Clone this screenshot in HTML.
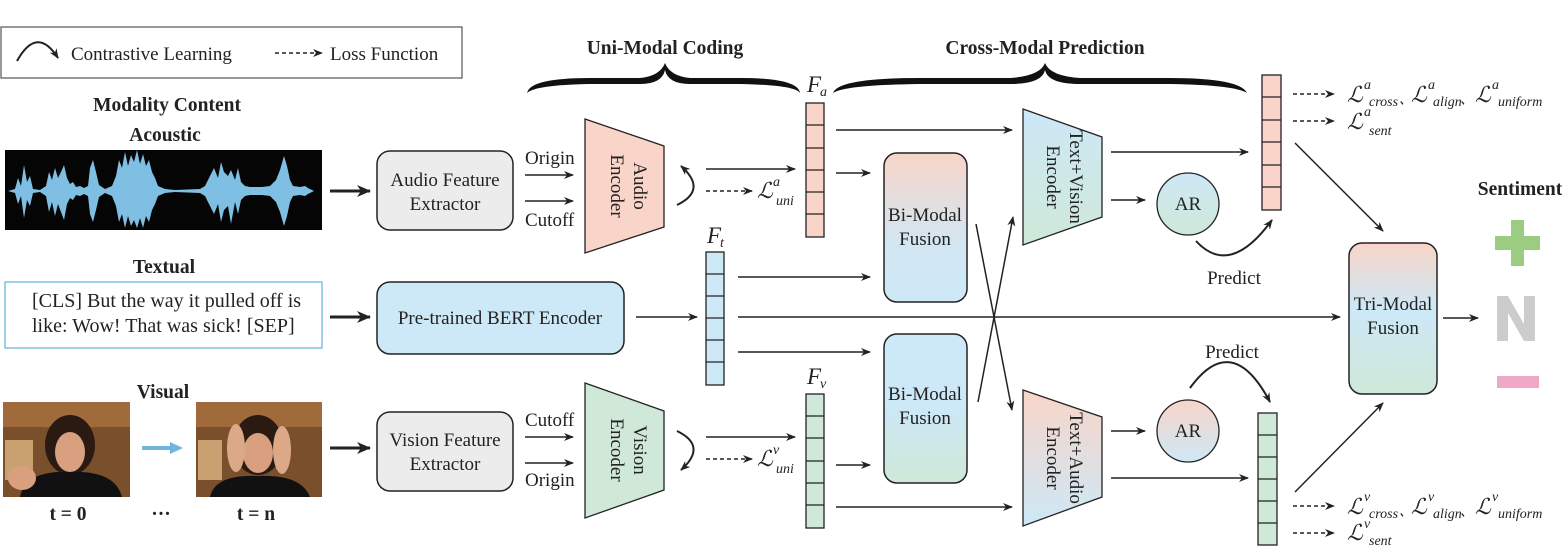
<!DOCTYPE html>
<html><head><meta charset="utf-8"><style>
html,body{margin:0;padding:0;background:#fff;}
svg{display:block;}
text{font-family:"Liberation Serif",serif;fill:#222;}
.b{font-weight:bold;font-size:19.5px;}
.t{font-size:19px;}
.i{font-style:italic;}
</style></head><body>
<svg width="1562" height="546" viewBox="0 0 1562 546" xmlns="http://www.w3.org/2000/svg">
<defs>
<marker id="ah" markerWidth="10" markerHeight="8" refX="9" refY="4" orient="auto" markerUnits="userSpaceOnUse"><path d="M0,0 L10,4 L0,8 L3,4z" fill="#222"/></marker>
<marker id="ahb" markerWidth="14" markerHeight="12" refX="13" refY="6" orient="auto" markerUnits="userSpaceOnUse"><path d="M0,0 L14,6 L0,12 L4,6z" fill="#222"/></marker>
<linearGradient id="pb" x1="0" y1="0" x2="0" y2="1"><stop offset="0" stop-color="#f8d5c8"/><stop offset="0.6" stop-color="#d3e6f2"/><stop offset="1" stop-color="#cde8f7"/></linearGradient>
<linearGradient id="bg" x1="0" y1="0" x2="0" y2="1"><stop offset="0" stop-color="#cde8f7"/><stop offset="0.5" stop-color="#cde8f7"/><stop offset="1" stop-color="#cfe8d8"/></linearGradient>
<linearGradient id="pbg" x1="0" y1="0" x2="0" y2="1"><stop offset="0" stop-color="#f8d5c8"/><stop offset="0.45" stop-color="#cde8f7"/><stop offset="1" stop-color="#cfe8d8"/></linearGradient>
<linearGradient id="bgr" x1="0" y1="0" x2="0" y2="1"><stop offset="0" stop-color="#cde8f7"/><stop offset="1" stop-color="#cfe8d8"/></linearGradient>
<linearGradient id="pbr" x1="0" y1="0" x2="0" y2="1"><stop offset="0" stop-color="#f8d5c8"/><stop offset="1" stop-color="#cde8f7"/></linearGradient>
</defs>

<!-- legend -->
<rect x="1" y="27" width="461" height="51" fill="#fff" stroke="#555" stroke-width="1.2"/>
<path d="M17,61 Q37,25 58,58" fill="none" stroke="#222" stroke-width="2" marker-end="url(#ah)"/>
<text x="71" y="60" class="t">Contrastive Learning</text>
<line x1="275" y1="53" x2="322" y2="53" stroke="#222" stroke-width="1.5" stroke-dasharray="4,3" marker-end="url(#ah)"/>
<text x="330" y="60" class="t">Loss Function</text>

<text x="167" y="111" class="b" text-anchor="middle">Modality Content</text>
<text x="165" y="141" class="b" text-anchor="middle">Acoustic</text>
<text x="164" y="273" class="b" text-anchor="middle">Textual</text>
<text x="163" y="398" class="b" text-anchor="middle">Visual</text>

<!-- waveform -->
<rect x="5" y="150" width="317" height="80" fill="#050505"/>
<g fill="#7fbfe3">
<polygon id="wv" points="8,191 15,189 18,178 21,186 24,165 27,182 30,176 33,189 40,190 46,186 49,172 52,180 55,168 58,178 61,172 64,165 67,178 70,184 73,182 76,187 80,186 84,188 88,186 90,168 93,160 96,172 99,185 105,189 112,186 116,176 119,160 122,168 125,152 128,166 131,155 134,162 137,150 140,164 143,154 146,166 149,160 152,172 155,178 158,186 165,189 175,190 200,189 205,186 210,176 214,168 218,178 221,162 224,172 228,176 231,170 235,180 238,168 241,182 245,186 250,187 262,187 270,186 276,180 280,170 284,156 287,166 290,180 293,186 300,187 305,186 308,188 314,191"/>
<polygon points="8,191 15,193 18,204 21,196 24,218 27,200 30,206 33,193 40,192 46,196 49,212 52,202 55,216 58,204 61,212 64,220 67,204 70,198 73,200 76,195 80,196 84,194 88,196 90,214 93,222 96,210 99,197 105,193 112,196 116,206 119,222 122,214 125,228 128,216 131,226 134,220 137,228 140,218 143,228 146,216 149,222 152,210 155,204 158,196 165,193 175,192 200,193 205,196 210,206 214,214 218,204 221,222 224,210 228,206 231,224 235,202 238,214 241,200 245,196 250,195 262,195 270,196 276,202 280,212 284,226 287,216 290,202 293,196 300,195 305,196 308,194 314,191"/>
</g>
<line x1="330" y1="191" x2="370" y2="191" stroke="#222" stroke-width="3" marker-end="url(#ahb)"/>

<!-- text box -->
<rect x="5" y="282" width="317" height="66" fill="#fff" stroke="#7fc0e0" stroke-width="1.5"/>
<text x="32" y="307" font-size="20">[CLS] But the way it pulled off is</text>
<text x="32" y="332" font-size="20">like: Wow! That was sick! [SEP]</text>
<line x1="330" y1="317" x2="370" y2="317" stroke="#222" stroke-width="3" marker-end="url(#ahb)"/>

<!-- images -->
<g>
<rect x="3" y="402" width="127" height="95" fill="#7a4f2c"/>
<rect x="3" y="402" width="127" height="25" fill="#a06a3a"/>
<rect x="5" y="440" width="28" height="40" fill="#c9a070"/>
<ellipse cx="70" cy="445" rx="25" ry="30" fill="#2a1a12"/>
<ellipse cx="70" cy="452" rx="15" ry="20" fill="#d9a080"/>
<path d="M20,497 Q25,470 70,472 Q115,470 122,497z" fill="#111"/>
<ellipse cx="22" cy="478" rx="14" ry="12" fill="#d9a080"/>
</g>
<line x1="142" y1="448" x2="172" y2="448" stroke="#6fb4dc" stroke-width="4"/>
<path d="M170,442 L183,448 L170,454z" fill="#6fb4dc"/>
<g>
<rect x="196" y="402" width="126" height="95" fill="#7a4f2c"/>
<rect x="196" y="402" width="126" height="25" fill="#a06a3a"/>
<rect x="198" y="440" width="24" height="40" fill="#c9a070"/>
<ellipse cx="258" cy="445" rx="25" ry="30" fill="#2a1a12"/>
<ellipse cx="258" cy="453" rx="15" ry="20" fill="#d9a080"/>
<ellipse cx="236" cy="448" rx="9" ry="24" fill="#dba888"/>
<ellipse cx="282" cy="450" rx="9" ry="24" fill="#dba888"/>
<path d="M210,497 Q215,474 258,476 Q301,474 310,497z" fill="#111"/>
</g>
<text x="68" y="520" class="b" text-anchor="middle">t = 0</text>
<text x="161" y="520" class="b" text-anchor="middle">···</text>
<text x="256" y="520" class="b" text-anchor="middle">t = n</text>
<line x1="330" y1="448" x2="370" y2="448" stroke="#222" stroke-width="3" marker-end="url(#ahb)"/>

<!-- extractors -->
<rect x="377" y="151" width="136" height="79" rx="13" fill="#ececec" stroke="#222" stroke-width="1.5"/>
<text x="445" y="186" class="t" text-anchor="middle">Audio Feature</text>
<text x="445" y="210" class="t" text-anchor="middle">Extractor</text>
<rect x="377" y="282" width="247" height="72" rx="13" fill="#cde8f7" stroke="#222" stroke-width="1.5"/>
<text x="500" y="324" class="t" text-anchor="middle">Pre-trained BERT Encoder</text>
<rect x="377" y="412" width="136" height="79" rx="13" fill="#ececec" stroke="#222" stroke-width="1.5"/>
<text x="445" y="446" class="t" text-anchor="middle">Vision Feature</text>
<text x="445" y="470" class="t" text-anchor="middle">Extractor</text>

<!-- audio encoder -->
<text x="525" y="164" class="t">Origin</text>
<line x1="525" y1="175" x2="573" y2="175" stroke="#222" stroke-width="1.5" marker-end="url(#ah)"/>
<line x1="525" y1="201" x2="573" y2="201" stroke="#222" stroke-width="1.5" marker-end="url(#ah)"/>
<text x="525" y="226" class="t">Cutoff</text>
<polygon points="585,119 664,146 664,227 585,253" fill="#f8d5c8" stroke="#222" stroke-width="1.3"/>
<text transform="translate(628,186) rotate(90)" class="t" text-anchor="middle"><tspan x="0" y="-6">Audio</tspan><tspan x="0" y="17">Encoder</tspan></text>
<path d="M677,205 Q708,190 681,166" fill="none" stroke="#222" stroke-width="2" marker-end="url(#ah)"/>
<line x1="706" y1="169" x2="795" y2="169" stroke="#222" stroke-width="1.5" marker-end="url(#ah)"/>
<line x1="706" y1="191" x2="752" y2="191" stroke="#222" stroke-width="1.5" stroke-dasharray="4,3" marker-end="url(#ah)"/>
<text x="757" y="198" font-size="22" class="i">ℒ</text><text x="773" y="186" class="i" font-size="14">a</text><text x="776" y="205" class="i" font-size="14">uni</text>

<!-- vision encoder -->
<text x="525" y="426" class="t">Cutoff</text>
<line x1="525" y1="437" x2="573" y2="437" stroke="#222" stroke-width="1.5" marker-end="url(#ah)"/>
<line x1="525" y1="463" x2="573" y2="463" stroke="#222" stroke-width="1.5" marker-end="url(#ah)"/>
<text x="525" y="486" class="t">Origin</text>
<polygon points="585,383 664,411 664,490 585,518" fill="#cfe8d8" stroke="#222" stroke-width="1.3"/>
<text transform="translate(628,450) rotate(90)" class="t" text-anchor="middle"><tspan x="0" y="-6">Vision</tspan><tspan x="0" y="17">Encoder</tspan></text>
<path d="M677,431 Q708,446 681,470" fill="none" stroke="#222" stroke-width="2" marker-end="url(#ah)"/>
<line x1="706" y1="437" x2="795" y2="437" stroke="#222" stroke-width="1.5" marker-end="url(#ah)"/>
<line x1="706" y1="459" x2="752" y2="459" stroke="#222" stroke-width="1.5" stroke-dasharray="4,3" marker-end="url(#ah)"/>
<text x="757" y="466" font-size="22" class="i">ℒ</text><text x="773" y="454" class="i" font-size="14">v</text><text x="776" y="473" class="i" font-size="14">uni</text>

<!-- braces -->
<text x="665" y="54" class="b" text-anchor="middle">Uni-Modal Coding</text>
<path d="M527,93 Q530,78 590,78 L640,78 Q660,76 665,63 Q670,76 690,78 L740,78 Q798,78 800,93 Q795,85 740,84 L690,84 Q668,84 665,70 Q662,84 640,84 L590,84 Q535,85 527,93z" fill="#111"/>
<text x="1045" y="54" class="b" text-anchor="middle">Cross-Modal Prediction</text>
<path d="M833,93 Q838,78 920,78 L1010,78 Q1040,76 1045,63 Q1050,76 1080,78 L1170,78 Q1240,78 1247,93 Q1235,85 1170,84 L1080,84 Q1048,84 1045,70 Q1042,84 1010,84 L920,84 Q845,85 833,93z" fill="#111"/>

<!-- feature vectors -->
<g stroke="#222" stroke-width="1.3">
<rect x="806" y="103" width="18" height="134" fill="#f8d5c8"/>
<line x1="806" y1="125" x2="824" y2="125"/><line x1="806" y1="148" x2="824" y2="148"/><line x1="806" y1="170" x2="824" y2="170"/><line x1="806" y1="192" x2="824" y2="192"/><line x1="806" y1="214" x2="824" y2="214"/>
<rect x="706" y="252" width="18" height="133" fill="#cde8f7"/>
<line x1="706" y1="274" x2="724" y2="274"/><line x1="706" y1="296" x2="724" y2="296"/><line x1="706" y1="318" x2="724" y2="318"/><line x1="706" y1="340" x2="724" y2="340"/><line x1="706" y1="362" x2="724" y2="362"/>
<rect x="806" y="394" width="18" height="134" fill="#cfe8d8"/>
<line x1="806" y1="416" x2="824" y2="416"/><line x1="806" y1="438" x2="824" y2="438"/><line x1="806" y1="461" x2="824" y2="461"/><line x1="806" y1="483" x2="824" y2="483"/><line x1="806" y1="505" x2="824" y2="505"/>
<rect x="1262" y="75" width="19" height="135" fill="#f8d5c8"/>
<line x1="1262" y1="97" x2="1281" y2="97"/><line x1="1262" y1="120" x2="1281" y2="120"/><line x1="1262" y1="142" x2="1281" y2="142"/><line x1="1262" y1="165" x2="1281" y2="165"/><line x1="1262" y1="187" x2="1281" y2="187"/>
<rect x="1258" y="413" width="19" height="132" fill="#cfe8d8"/>
<line x1="1258" y1="435" x2="1277" y2="435"/><line x1="1258" y1="457" x2="1277" y2="457"/><line x1="1258" y1="479" x2="1277" y2="479"/><line x1="1258" y1="501" x2="1277" y2="501"/><line x1="1258" y1="523" x2="1277" y2="523"/>
</g>
<text x="807" y="92" font-size="23" class="i">F</text><text x="820" y="96" font-size="14" class="i">a</text>
<text x="707" y="243" font-size="23" class="i">F</text><text x="720" y="247" font-size="14" class="i">t</text>
<text x="807" y="384" font-size="23" class="i">F</text><text x="820" y="388" font-size="14" class="i">v</text>

<!-- arrows -->
<g stroke="#222" stroke-width="1.5" fill="none">
<line x1="636" y1="317" x2="697" y2="317" marker-end="url(#ah)"/>
<line x1="836" y1="130" x2="1012" y2="130" marker-end="url(#ah)"/>
<line x1="836" y1="173" x2="870" y2="173" marker-end="url(#ah)"/>
<line x1="738" y1="277" x2="870" y2="277" marker-end="url(#ah)"/>
<line x1="738" y1="317" x2="1340" y2="317" marker-end="url(#ah)"/>
<line x1="738" y1="352" x2="870" y2="352" marker-end="url(#ah)"/>
<line x1="836" y1="465" x2="870" y2="465" marker-end="url(#ah)"/>
<line x1="836" y1="507" x2="1012" y2="507" marker-end="url(#ah)"/>
<line x1="976" y1="224" x2="1012" y2="410" marker-end="url(#ah)"/>
<line x1="978" y1="402" x2="1013" y2="217" marker-end="url(#ah)"/>
<line x1="1111" y1="152" x2="1248" y2="152" marker-end="url(#ah)"/>
<line x1="1111" y1="200" x2="1145" y2="200" marker-end="url(#ah)"/>
<line x1="1111" y1="431" x2="1145" y2="431" marker-end="url(#ah)"/>
<line x1="1111" y1="478" x2="1248" y2="478" marker-end="url(#ah)"/>
<line x1="1295" y1="143" x2="1383" y2="231" marker-end="url(#ah)"/>
<line x1="1295" y1="492" x2="1383" y2="403" marker-end="url(#ah)"/>
<line x1="1443" y1="318" x2="1478" y2="318" marker-end="url(#ah)"/>
<path d="M1196,241 Q1230,278 1272,220" stroke-width="2" marker-end="url(#ah)"/>
<path d="M1190,388 Q1232,330 1270,402" stroke-width="2" marker-end="url(#ah)"/>
</g>
<text x="1234" y="284" class="t" text-anchor="middle">Predict</text>
<text x="1232" y="358" class="t" text-anchor="middle">Predict</text>

<!-- bi-modal -->
<rect x="884" y="153" width="83" height="149" rx="13" fill="url(#pb)" stroke="#222" stroke-width="1.5"/>
<text x="925" y="221" class="t" text-anchor="middle">Bi-Modal</text>
<text x="925" y="245" class="t" text-anchor="middle">Fusion</text>
<rect x="884" y="334" width="83" height="149" rx="13" fill="url(#bg)" stroke="#222" stroke-width="1.5"/>
<text x="925" y="400" class="t" text-anchor="middle">Bi-Modal</text>
<text x="925" y="424" class="t" text-anchor="middle">Fusion</text>

<!-- cross encoders -->
<polygon points="1023,109 1102,137 1102,217 1023,245" fill="url(#bgr)" stroke="#222" stroke-width="1.3"/>
<text transform="translate(1064,177) rotate(90)" class="t" text-anchor="middle"><tspan x="0" y="-6">Text+Vision</tspan><tspan x="0" y="17">Encoder</tspan></text>
<polygon points="1023,390 1102,417 1102,497 1023,526" fill="url(#pbr)" stroke="#222" stroke-width="1.3"/>
<text transform="translate(1064,458) rotate(90)" class="t" text-anchor="middle"><tspan x="0" y="-6">Text+Audio</tspan><tspan x="0" y="17">Encoder</tspan></text>

<circle cx="1188" cy="204" r="31" fill="url(#bgr)" stroke="#222" stroke-width="1.3"/>
<text x="1188" y="210" class="t" text-anchor="middle">AR</text>
<circle cx="1188" cy="431" r="31" fill="url(#pbr)" stroke="#222" stroke-width="1.3"/>
<text x="1188" y="437" class="t" text-anchor="middle">AR</text>

<!-- losses -->
<g stroke="#222" stroke-width="1.5" stroke-dasharray="4,3">
<line x1="1293" y1="94" x2="1334" y2="94" marker-end="url(#ah)"/>
<line x1="1293" y1="121" x2="1334" y2="121" marker-end="url(#ah)"/>
<line x1="1293" y1="506" x2="1334" y2="506" marker-end="url(#ah)"/>
<line x1="1293" y1="533" x2="1334" y2="533" marker-end="url(#ah)"/>
</g>
<g font-style="italic">
<text x="1347" y="102" font-size="22">ℒ</text><text x="1364" y="89" font-size="14">a</text><text x="1369" y="106" font-size="14">cross</text><text x="1399" y="104" font-size="13">、</text>
<text x="1411" y="102" font-size="22">ℒ</text><text x="1428" y="89" font-size="14">a</text><text x="1433" y="106" font-size="14">align</text><text x="1460" y="104" font-size="13">、</text>
<text x="1475" y="102" font-size="22">ℒ</text><text x="1492" y="89" font-size="14">a</text><text x="1498" y="106" font-size="14">uniform</text>
<text x="1347" y="129" font-size="22">ℒ</text><text x="1364" y="116" font-size="14">a</text><text x="1369" y="135" font-size="14">sent</text>
<text x="1347" y="514" font-size="22">ℒ</text><text x="1364" y="501" font-size="14">v</text><text x="1369" y="518" font-size="14">cross</text><text x="1399" y="516" font-size="13">、</text>
<text x="1411" y="514" font-size="22">ℒ</text><text x="1428" y="501" font-size="14">v</text><text x="1433" y="518" font-size="14">align</text><text x="1460" y="516" font-size="13">、</text>
<text x="1475" y="514" font-size="22">ℒ</text><text x="1492" y="501" font-size="14">v</text><text x="1498" y="518" font-size="14">uniform</text>
<text x="1347" y="540" font-size="22">ℒ</text><text x="1364" y="528" font-size="14">v</text><text x="1369" y="545" font-size="14">sent</text>
</g>

<!-- tri-modal -->
<rect x="1349" y="243" width="88" height="151" rx="13" fill="url(#pbg)" stroke="#222" stroke-width="1.5"/>
<text x="1393" y="310" class="t" text-anchor="middle">Tri-Modal</text>
<text x="1393" y="334" class="t" text-anchor="middle">Fusion</text>

<text x="1520" y="195" class="b" text-anchor="middle">Sentiment</text>
<rect x="1495" y="236" width="45" height="14" fill="#9ccc80"/>
<rect x="1511" y="220" width="13" height="46" fill="#9ccc80"/>
<path d="M1497,296 L1508,296 L1524,324 L1524,296 L1535,296 L1535,341 L1524,341 L1508,313 L1508,341 L1497,341z" fill="#cccccc"/>
<rect x="1497" y="376" width="42" height="12" fill="#f0a8c8"/>
</svg>
</body></html>
